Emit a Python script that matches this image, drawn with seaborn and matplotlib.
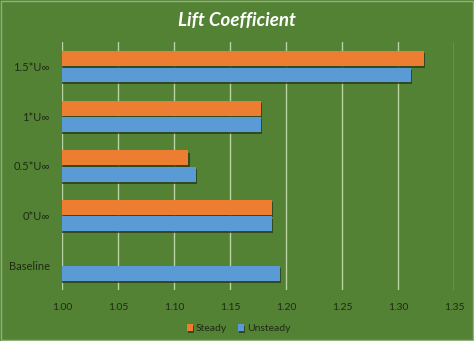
import matplotlib
matplotlib.use("Agg")
import matplotlib.pyplot as plt
import matplotlib.patheffects as pe
import seaborn as sns
import pandas as pd
import numpy as np

categories = ["1.5*U∞", "1*U∞", "0.5*U∞", "0*U∞", "Baseline"]
steady = [1.323, 1.177, 1.1125, 1.187, np.nan]
unsteady = [1.311, 1.177, 1.119, 1.187, 1.194]
series = ["Steady", "Unsteady"]
xticks = [1.00, 1.05, 1.10, 1.15, 1.20, 1.25, 1.30, 1.35]

df = pd.DataFrame({
    "case": categories * 2,
    "series": ["Steady"] * len(categories) + ["Unsteady"] * len(categories),
    "value": steady + unsteady,
})

bg = "#548235"
sns.set_theme(style="white")
plt.rcParams["font.family"] = ["Lato", "DejaVu Sans"]

fig = plt.figure(figsize=(4.74, 3.41), dpi=100, facecolor=bg)
ax = fig.add_axes([62.3 / 474, 1 - 290 / 341, (454.3 - 62.3) / 474, 248 / 341])
ax.set_facecolor(bg)

sns.barplot(data=df, y="case", x="value", hue="series", order=categories,
            hue_order=series, palette=["#ED7D31", "#5B9BD5"], orient="h",
            width=0.66, gap=0.1, saturation=1, ax=ax, legend=True)

for p in ax.patches:
    p.set_path_effects([pe.SimplePatchShadow(offset=(1, -1.5), shadow_rgbFace="#2a3d1a", alpha=0.8), pe.Normal()])
    p.set_edgecolor("none")

ax.set_xlim(1.0, 1.35)
ax.set_xticks(xticks)
ax.set_xticklabels([f"{t:.2f}" for t in xticks], fontsize=7.5, color="#1e2a14")
ax.tick_params(axis="y", labelsize=8, colors="#1e2a14", length=0, pad=9)
ax.tick_params(axis="x", length=0, pad=9)
ax.xaxis.grid(True, color="#b9d3a3", linewidth=1)
ax.set_axisbelow(True)
for s in ax.spines.values():
    s.set_visible(False)
ax.set_xlabel("")
ax.set_ylabel("")

fig.text(0.5, 1 - 20 / 341, "Lift Coefficient", color="white", fontsize=13.5,
         fontweight="bold", fontstyle="italic", ha="center", va="center")

leg = ax.legend(loc="upper center", bbox_to_anchor=(0.45, -0.1), ncol=2, frameon=False,
                fontsize=7.5, handlelength=0.6, handleheight=0.6, handletextpad=0.3,
                columnspacing=1.0)
for t in leg.get_texts():
    t.set_color("#1e2a14")

fig.patches.append(plt.Rectangle((0.003, 0.003), 0.994, 0.994, transform=fig.transFigure,
                                 fill=False, edgecolor="#8fb07a", linewidth=1))

fig.savefig("out.png", dpi=100, facecolor=bg)
